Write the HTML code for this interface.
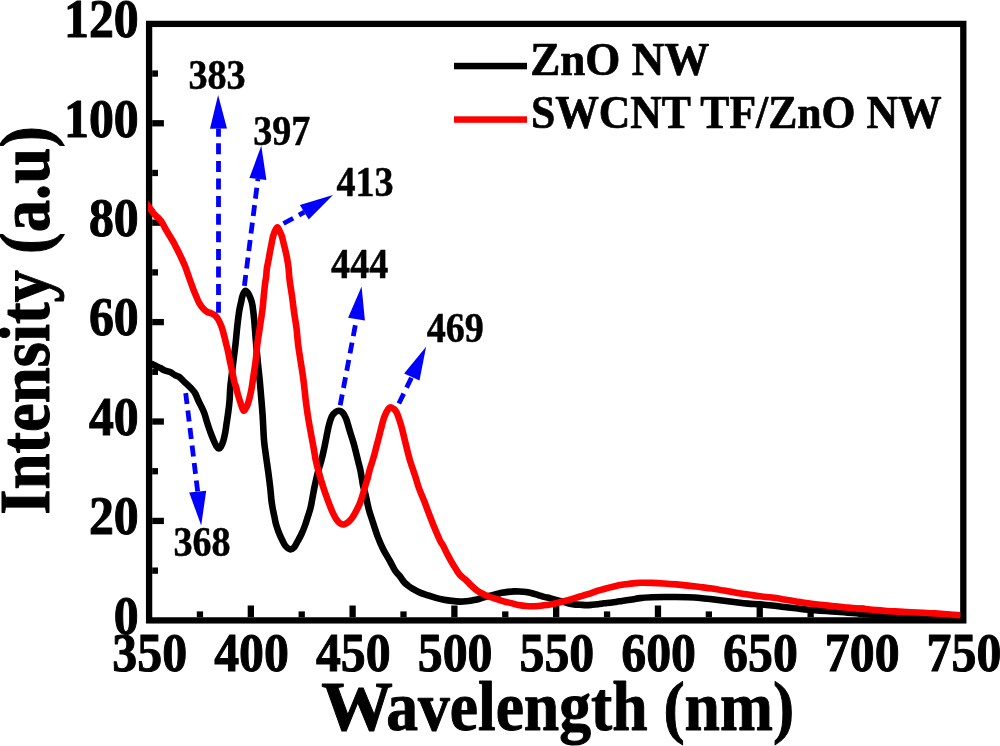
<!DOCTYPE html>
<html><head><meta charset="utf-8"><style>
html,body{margin:0;padding:0;background:#fff;overflow:hidden;width:1000px;height:746px;}
svg{display:block;will-change:transform;}
</style></head><body>
<svg width="1000" height="746" viewBox="0 0 1000 746">
<rect width="1000" height="746" fill="#fff"/>
<rect x="149.1" y="23.9" width="814.2" height="596.5" fill="none" stroke="#000" stroke-width="6.3"/>
<line x1="199.94" y1="617.2" x2="199.94" y2="611.4" stroke="#000" stroke-width="6.3"/>
<line x1="250.83" y1="617.2" x2="250.83" y2="605.5" stroke="#000" stroke-width="6.3"/>
<line x1="301.72" y1="617.2" x2="301.72" y2="611.4" stroke="#000" stroke-width="6.3"/>
<line x1="352.61" y1="617.2" x2="352.61" y2="605.5" stroke="#000" stroke-width="6.3"/>
<line x1="403.50" y1="617.2" x2="403.50" y2="611.4" stroke="#000" stroke-width="6.3"/>
<line x1="454.39" y1="617.2" x2="454.39" y2="605.5" stroke="#000" stroke-width="6.3"/>
<line x1="505.28" y1="617.2" x2="505.28" y2="611.4" stroke="#000" stroke-width="6.3"/>
<line x1="556.17" y1="617.2" x2="556.17" y2="605.5" stroke="#000" stroke-width="6.3"/>
<line x1="607.07" y1="617.2" x2="607.07" y2="611.4" stroke="#000" stroke-width="6.3"/>
<line x1="657.96" y1="617.2" x2="657.96" y2="605.5" stroke="#000" stroke-width="6.3"/>
<line x1="708.85" y1="617.2" x2="708.85" y2="611.4" stroke="#000" stroke-width="6.3"/>
<line x1="759.74" y1="617.2" x2="759.74" y2="605.5" stroke="#000" stroke-width="6.3"/>
<line x1="810.63" y1="617.2" x2="810.63" y2="611.4" stroke="#000" stroke-width="6.3"/>
<line x1="861.52" y1="617.2" x2="861.52" y2="605.5" stroke="#000" stroke-width="6.3"/>
<line x1="912.41" y1="617.2" x2="912.41" y2="611.4" stroke="#000" stroke-width="6.3"/>
<line x1="152.2" y1="570.64" x2="158.0" y2="570.64" stroke="#000" stroke-width="6.3"/>
<line x1="152.2" y1="520.93" x2="163.9" y2="520.93" stroke="#000" stroke-width="6.3"/>
<line x1="152.2" y1="471.23" x2="158.0" y2="471.23" stroke="#000" stroke-width="6.3"/>
<line x1="152.2" y1="421.52" x2="163.9" y2="421.52" stroke="#000" stroke-width="6.3"/>
<line x1="152.2" y1="371.81" x2="158.0" y2="371.81" stroke="#000" stroke-width="6.3"/>
<line x1="152.2" y1="322.10" x2="163.9" y2="322.10" stroke="#000" stroke-width="6.3"/>
<line x1="152.2" y1="272.39" x2="158.0" y2="272.39" stroke="#000" stroke-width="6.3"/>
<line x1="152.2" y1="222.68" x2="163.9" y2="222.68" stroke="#000" stroke-width="6.3"/>
<line x1="152.2" y1="172.98" x2="158.0" y2="172.98" stroke="#000" stroke-width="6.3"/>
<line x1="152.2" y1="123.27" x2="163.9" y2="123.27" stroke="#000" stroke-width="6.3"/>
<line x1="152.2" y1="73.56" x2="158.0" y2="73.56" stroke="#000" stroke-width="6.3"/>
<clipPath id="pc"><rect x="148" y="0" width="812.2" height="623"/></clipPath>
<g clip-path="url(#pc)">
<path d="M151.00,363.30 C151.83,363.75 154.42,365.22 156.00,366.00 C157.58,366.78 159.13,367.28 160.50,368.00 C161.87,368.72 162.60,369.62 164.20,370.30 C165.80,370.98 168.30,371.30 170.10,372.10 C171.90,372.90 173.52,374.32 175.00,375.10 C176.48,375.88 177.67,375.87 179.00,376.80 C180.33,377.73 181.65,379.45 183.00,380.70 C184.35,381.95 185.75,383.03 187.10,384.30 C188.45,385.57 189.77,386.82 191.10,388.30 C192.43,389.78 193.93,391.25 195.10,393.20 C196.27,395.15 197.05,397.75 198.10,400.00 C199.15,402.25 200.35,404.47 201.40,406.70 C202.45,408.93 203.57,411.17 204.40,413.40 C205.23,415.63 205.72,417.87 206.40,420.10 C207.08,422.33 207.75,424.57 208.50,426.80 C209.25,429.03 210.05,431.27 210.90,433.50 C211.75,435.73 212.67,438.07 213.60,440.20 C214.53,442.33 215.67,444.93 216.50,446.30 C217.33,447.67 217.85,448.37 218.60,448.40 C219.35,448.43 220.18,447.87 221.00,446.50 C221.82,445.13 222.78,442.58 223.50,440.20 C224.22,437.82 224.80,434.88 225.30,432.20 C225.80,429.52 226.10,426.78 226.50,424.10 C226.90,421.42 227.32,418.78 227.70,416.10 C228.08,413.42 228.48,410.68 228.80,408.00 C229.12,405.32 229.35,403.47 229.60,400.00 C229.85,396.53 229.98,391.03 230.30,387.20 C230.62,383.37 231.10,380.37 231.50,377.00 C231.90,373.63 232.30,370.33 232.70,367.00 C233.10,363.67 233.42,360.95 233.90,357.00 C234.38,353.05 235.05,348.27 235.60,343.30 C236.15,338.33 236.60,332.57 237.20,327.20 C237.80,321.83 238.58,315.13 239.20,311.10 C239.82,307.07 240.33,305.60 240.90,303.00 C241.47,300.40 241.87,297.53 242.60,295.50 C243.33,293.47 244.35,291.13 245.30,290.80 C246.25,290.47 247.42,292.22 248.30,293.50 C249.18,294.78 249.92,296.58 250.60,298.50 C251.28,300.42 251.80,301.42 252.40,305.00 C253.00,308.58 253.63,314.17 254.20,320.00 C254.77,325.83 255.23,333.33 255.80,340.00 C256.37,346.67 256.97,353.48 257.60,360.00 C258.23,366.52 259.03,373.23 259.60,379.10 C260.17,384.97 260.50,389.22 261.00,395.20 C261.50,401.18 262.10,407.53 262.60,415.00 C263.10,422.47 263.43,433.15 264.00,440.00 C264.57,446.85 265.28,450.73 266.00,456.10 C266.72,461.47 267.58,466.83 268.30,472.20 C269.02,477.57 269.78,483.67 270.30,488.30 C270.82,492.93 271.02,496.72 271.40,500.00 C271.78,503.28 272.12,505.32 272.60,508.00 C273.08,510.68 273.73,513.42 274.30,516.10 C274.87,518.78 275.27,521.42 276.00,524.10 C276.73,526.78 277.65,529.52 278.70,532.20 C279.75,534.88 281.17,537.90 282.30,540.20 C283.43,542.50 284.23,544.48 285.50,546.00 C286.77,547.52 288.48,549.05 289.90,549.30 C291.32,549.55 292.68,548.88 294.00,547.50 C295.32,546.12 296.55,543.25 297.80,541.00 C299.05,538.75 300.33,536.50 301.50,534.00 C302.67,531.50 303.72,528.98 304.80,526.00 C305.88,523.02 307.05,519.10 308.00,516.10 C308.95,513.10 309.82,510.68 310.50,508.00 C311.18,505.32 311.47,503.33 312.10,500.00 C312.73,496.67 313.57,491.67 314.30,488.00 C315.03,484.33 315.75,481.17 316.50,478.00 C317.25,474.83 317.97,472.00 318.80,469.00 C319.63,466.00 320.60,463.45 321.50,460.00 C322.40,456.55 323.22,452.93 324.20,448.30 C325.18,443.67 326.57,436.23 327.40,432.20 C328.23,428.17 328.43,426.78 329.20,424.10 C329.97,421.42 330.95,418.12 332.00,416.10 C333.05,414.08 334.33,412.90 335.50,412.00 C336.67,411.10 337.83,410.62 339.00,410.70 C340.17,410.78 341.33,411.20 342.50,412.50 C343.67,413.80 344.83,415.58 346.00,418.50 C347.17,421.42 348.50,426.75 349.50,430.00 C350.50,433.25 351.18,435.32 352.00,438.00 C352.82,440.68 353.67,443.42 354.40,446.10 C355.13,448.78 355.73,451.42 356.40,454.10 C357.07,456.78 357.73,459.52 358.40,462.20 C359.07,464.88 359.83,467.52 360.40,470.20 C360.97,472.88 361.33,475.62 361.80,478.30 C362.27,480.98 362.57,483.55 363.20,486.30 C363.83,489.05 364.67,490.97 365.60,494.80 C366.53,498.63 367.58,504.73 368.80,509.30 C370.02,513.87 371.42,517.65 372.90,522.20 C374.38,526.75 375.97,532.05 377.70,536.60 C379.43,541.15 381.30,545.48 383.30,549.50 C385.30,553.52 387.75,557.20 389.70,560.70 C391.65,564.20 393.28,567.88 395.00,570.50 C396.72,573.12 398.50,574.48 400.00,576.40 C401.50,578.32 402.67,580.47 404.00,582.00 C405.33,583.53 406.67,584.53 408.00,585.60 C409.33,586.67 410.00,587.23 412.00,588.40 C414.00,589.57 417.33,591.45 420.00,592.60 C422.67,593.75 425.33,594.42 428.00,595.30 C430.67,596.18 433.33,597.17 436.00,597.90 C438.67,598.63 441.33,599.20 444.00,599.70 C446.67,600.20 449.33,600.58 452.00,600.90 C454.67,601.22 457.67,601.53 460.00,601.60 C462.33,601.67 464.00,601.50 466.00,601.30 C468.00,601.10 470.00,600.75 472.00,600.40 C474.00,600.05 476.00,599.72 478.00,599.20 C480.00,598.68 482.00,597.88 484.00,597.30 C486.00,596.72 488.00,596.20 490.00,595.70 C492.00,595.20 494.00,594.78 496.00,594.30 C498.00,593.82 500.00,593.20 502.00,592.80 C504.00,592.40 506.00,592.13 508.00,591.90 C510.00,591.67 512.00,591.47 514.00,591.40 C516.00,591.33 518.00,591.38 520.00,591.50 C522.00,591.62 524.00,591.80 526.00,592.10 C528.00,592.40 530.00,592.80 532.00,593.30 C534.00,593.80 536.00,594.50 538.00,595.10 C540.00,595.70 542.00,596.40 544.00,596.90 C546.00,597.40 548.00,597.60 550.00,598.10 C552.00,598.60 554.00,599.35 556.00,599.90 C558.00,600.45 560.00,600.85 562.00,601.40 C564.00,601.95 566.00,602.70 568.00,603.20 C570.00,603.70 572.00,604.15 574.00,604.40 C576.00,604.65 578.00,604.58 580.00,604.70 C582.00,604.82 584.00,605.08 586.00,605.10 C588.00,605.12 590.00,604.95 592.00,604.80 C594.00,604.65 596.00,604.45 598.00,604.20 C600.00,603.95 602.00,603.55 604.00,603.30 C606.00,603.05 608.00,602.93 610.00,602.70 C612.00,602.47 614.00,602.18 616.00,601.90 C618.00,601.62 620.00,601.30 622.00,601.00 C624.00,600.70 626.00,600.40 628.00,600.10 C630.00,599.80 632.00,599.53 634.00,599.20 C636.00,598.87 637.00,598.42 640.00,598.10 C643.00,597.78 648.00,597.48 652.00,597.30 C656.00,597.12 660.00,597.05 664.00,597.00 C668.00,596.95 672.00,596.95 676.00,597.00 C680.00,597.05 684.00,597.13 688.00,597.30 C692.00,597.47 696.00,597.67 700.00,598.00 C704.00,598.33 708.00,598.83 712.00,599.30 C716.00,599.77 720.00,600.30 724.00,600.80 C728.00,601.30 732.00,601.83 736.00,602.30 C740.00,602.77 744.00,603.27 748.00,603.60 C752.00,603.93 756.00,603.98 760.00,604.30 C764.00,604.62 768.00,605.05 772.00,605.50 C776.00,605.95 780.00,606.53 784.00,607.00 C788.00,607.47 792.00,607.85 796.00,608.30 C800.00,608.75 804.00,609.32 808.00,609.70 C812.00,610.08 816.00,610.32 820.00,610.60 C824.00,610.88 828.00,611.12 832.00,611.40 C836.00,611.68 840.00,612.00 844.00,612.30 C848.00,612.60 851.67,612.83 856.00,613.20 C860.33,613.57 864.33,614.03 870.00,614.50 C875.67,614.97 881.67,615.45 890.00,616.00 C898.33,616.55 908.33,617.22 920.00,617.80 C931.67,618.38 953.33,619.22 960.00,619.50" fill="none" stroke="#000" stroke-width="6.6" stroke-linejoin="round"/>
<path d="M144.00,200.90 C144.67,201.73 146.67,204.20 148.00,205.90 C149.33,207.60 150.80,209.57 152.00,211.10 C153.20,212.63 153.95,213.77 155.20,215.10 C156.45,216.43 158.28,217.75 159.50,219.10 C160.72,220.45 161.67,221.85 162.50,223.20 C163.33,224.55 163.77,225.87 164.50,227.20 C165.23,228.53 166.10,229.87 166.90,231.20 C167.70,232.53 168.50,233.87 169.30,235.20 C170.10,236.53 170.90,237.85 171.70,239.20 C172.50,240.55 173.37,241.95 174.10,243.30 C174.83,244.65 175.48,246.10 176.10,247.30 C176.72,248.50 176.92,248.72 177.80,250.50 C178.68,252.28 180.20,255.40 181.40,258.00 C182.60,260.60 183.92,263.42 185.00,266.10 C186.08,268.78 186.95,271.42 187.90,274.10 C188.85,276.78 189.73,279.52 190.70,282.20 C191.67,284.88 192.73,287.73 193.70,290.20 C194.67,292.67 195.62,294.93 196.50,297.00 C197.38,299.07 197.92,300.70 199.00,302.60 C200.08,304.50 201.65,306.85 203.00,308.40 C204.35,309.95 205.75,311.08 207.10,311.90 C208.45,312.72 209.77,312.70 211.10,313.30 C212.43,313.90 213.90,314.47 215.10,315.50 C216.30,316.53 217.20,317.55 218.30,319.50 C219.40,321.45 220.75,324.58 221.70,327.20 C222.65,329.82 223.28,332.52 224.00,335.20 C224.72,337.88 225.33,340.62 226.00,343.30 C226.67,345.98 227.42,348.68 228.00,351.30 C228.58,353.92 228.97,356.38 229.50,359.00 C230.03,361.62 230.63,364.33 231.20,367.00 C231.77,369.67 232.33,372.33 232.90,375.00 C233.47,377.67 234.07,380.97 234.60,383.00 C235.13,385.03 235.52,385.17 236.10,387.20 C236.68,389.23 237.33,392.52 238.10,395.20 C238.87,397.88 239.78,400.73 240.70,403.30 C241.62,405.87 242.63,409.98 243.60,410.60 C244.57,411.22 245.75,408.22 246.50,407.00 C247.25,405.78 247.48,405.27 248.10,403.30 C248.72,401.33 249.58,397.88 250.20,395.20 C250.82,392.52 251.33,389.88 251.80,387.20 C252.27,384.52 252.60,381.78 253.00,379.10 C253.40,376.42 253.80,373.78 254.20,371.10 C254.60,368.42 255.05,365.68 255.40,363.00 C255.75,360.32 256.00,358.00 256.30,355.00 C256.60,352.00 256.85,348.00 257.20,345.00 C257.55,342.00 257.87,340.57 258.40,337.00 C258.93,333.43 259.73,328.07 260.40,323.60 C261.07,319.13 261.85,314.67 262.40,310.20 C262.95,305.73 263.25,301.27 263.70,296.80 C264.15,292.33 264.68,286.82 265.10,283.40 C265.52,279.98 265.90,278.82 266.20,276.30 C266.50,273.78 266.52,270.98 266.90,268.30 C267.28,265.62 268.00,262.88 268.50,260.20 C269.00,257.52 269.40,254.88 269.90,252.20 C270.40,249.52 270.97,246.78 271.50,244.10 C272.03,241.42 272.52,238.28 273.10,236.10 C273.68,233.92 274.30,232.45 275.00,231.00 C275.70,229.55 276.53,227.40 277.30,227.40 C278.07,227.40 278.85,229.55 279.60,231.00 C280.35,232.45 281.10,233.92 281.80,236.10 C282.50,238.28 283.13,241.42 283.80,244.10 C284.47,246.78 285.20,249.52 285.80,252.20 C286.40,254.88 286.93,257.52 287.40,260.20 C287.87,262.88 288.23,265.00 288.60,268.30 C288.97,271.60 289.03,275.37 289.60,280.00 C290.17,284.63 291.25,290.73 292.00,296.10 C292.75,301.47 293.35,306.85 294.10,312.20 C294.85,317.55 295.83,322.85 296.50,328.20 C297.17,333.55 297.43,338.93 298.10,344.30 C298.77,349.67 299.68,355.03 300.50,360.40 C301.32,365.77 302.27,371.15 303.00,376.50 C303.73,381.85 304.45,388.58 304.90,392.50 C305.35,396.42 305.20,396.07 305.70,400.00 C306.20,403.93 307.07,410.73 307.90,416.10 C308.73,421.47 309.73,426.83 310.70,432.20 C311.67,437.57 312.87,443.67 313.70,448.30 C314.53,452.93 314.82,455.88 315.70,460.00 C316.58,464.12 317.47,467.65 319.00,473.00 C320.53,478.35 322.58,485.43 324.90,492.10 C327.22,498.77 330.72,508.10 332.90,513.00 C335.08,517.90 336.18,519.60 338.00,521.50 C339.82,523.40 341.58,524.82 343.80,524.40 C346.02,523.98 348.80,522.10 351.30,519.00 C353.80,515.90 357.02,509.47 358.80,505.80 C360.58,502.13 360.93,500.25 362.00,497.00 C363.07,493.75 364.27,489.42 365.20,486.30 C366.13,483.18 366.87,480.98 367.60,478.30 C368.33,475.62 368.85,472.88 369.60,470.20 C370.35,467.52 371.28,464.88 372.10,462.20 C372.92,459.52 373.77,456.78 374.50,454.10 C375.23,451.42 375.80,448.78 376.50,446.10 C377.20,443.42 378.00,440.68 378.70,438.00 C379.40,435.32 379.80,433.42 380.70,430.00 C381.60,426.58 382.83,421.00 384.10,417.50 C385.37,414.00 387.07,410.65 388.30,409.00 C389.53,407.35 390.17,407.12 391.50,407.60 C392.83,408.08 394.72,409.00 396.30,411.90 C397.88,414.80 399.58,420.30 401.00,425.00 C402.42,429.70 403.38,434.47 404.80,440.10 C406.22,445.73 407.78,452.85 409.50,458.80 C411.22,464.75 413.53,470.93 415.10,475.80 C416.67,480.67 417.37,483.75 418.90,488.00 C420.43,492.25 422.60,496.95 424.30,501.30 C426.00,505.65 427.35,509.55 429.10,514.10 C430.85,518.65 432.92,524.05 434.80,528.60 C436.68,533.15 439.07,538.67 440.40,541.40 C441.73,544.13 441.75,543.07 442.80,545.00 C443.85,546.93 445.32,550.32 446.70,553.00 C448.08,555.68 449.57,558.42 451.10,561.10 C452.63,563.78 454.42,566.78 455.90,569.10 C457.38,571.42 458.32,573.15 460.00,575.00 C461.68,576.85 464.00,578.33 466.00,580.20 C468.00,582.07 470.00,584.35 472.00,586.20 C474.00,588.05 476.00,589.93 478.00,591.30 C480.00,592.67 482.00,593.45 484.00,594.40 C486.00,595.35 488.00,596.25 490.00,597.00 C492.00,597.75 494.00,598.25 496.00,598.90 C498.00,599.55 500.00,600.32 502.00,600.90 C504.00,601.48 506.00,601.90 508.00,602.40 C510.00,602.90 512.00,603.42 514.00,603.90 C516.00,604.38 518.00,604.95 520.00,605.30 C522.00,605.65 524.00,605.83 526.00,606.00 C528.00,606.17 530.00,606.30 532.00,606.30 C534.00,606.30 536.00,606.17 538.00,606.00 C540.00,605.83 542.00,605.57 544.00,605.30 C546.00,605.03 548.00,604.75 550.00,604.40 C552.00,604.05 554.00,603.63 556.00,603.20 C558.00,602.77 560.00,602.30 562.00,601.80 C564.00,601.30 566.00,600.77 568.00,600.20 C570.00,599.63 572.00,599.02 574.00,598.40 C576.00,597.78 578.00,597.12 580.00,596.50 C582.00,595.88 584.00,595.32 586.00,594.70 C588.00,594.08 590.00,593.47 592.00,592.80 C594.00,592.13 596.00,591.33 598.00,590.70 C600.00,590.07 602.00,589.55 604.00,589.00 C606.00,588.45 608.00,587.92 610.00,587.40 C612.00,586.88 614.00,586.33 616.00,585.90 C618.00,585.47 620.00,585.13 622.00,584.80 C624.00,584.47 626.00,584.15 628.00,583.90 C630.00,583.65 632.00,583.48 634.00,583.30 C636.00,583.12 637.00,582.87 640.00,582.80 C643.00,582.73 648.00,582.78 652.00,582.90 C656.00,583.02 660.00,583.25 664.00,583.50 C668.00,583.75 672.00,584.05 676.00,584.40 C680.00,584.75 684.00,585.17 688.00,585.60 C692.00,586.03 696.00,586.52 700.00,587.00 C704.00,587.48 708.00,587.90 712.00,588.50 C716.00,589.10 720.00,589.90 724.00,590.60 C728.00,591.30 732.00,592.05 736.00,592.70 C740.00,593.35 744.00,593.90 748.00,594.50 C752.00,595.10 756.00,595.78 760.00,596.30 C764.00,596.82 768.00,597.08 772.00,597.60 C776.00,598.12 780.00,598.77 784.00,599.40 C788.00,600.03 792.00,600.75 796.00,601.40 C800.00,602.05 804.00,602.73 808.00,603.30 C812.00,603.87 816.00,604.35 820.00,604.80 C824.00,605.25 828.00,605.60 832.00,606.00 C836.00,606.40 840.00,606.80 844.00,607.20 C848.00,607.60 852.00,608.05 856.00,608.40 C860.00,608.75 864.00,608.97 868.00,609.30 C872.00,609.63 876.83,610.12 880.00,610.40 C883.17,610.68 883.83,610.80 887.00,611.00 C890.17,611.20 895.00,611.40 899.00,611.60 C903.00,611.80 907.00,612.00 911.00,612.20 C915.00,612.40 919.00,612.60 923.00,612.80 C927.00,613.00 928.83,613.00 935.00,613.40 C941.17,613.80 955.17,614.85 960.00,615.20 C964.83,615.55 963.33,615.45 964.00,615.50" fill="none" stroke="#ff0000" stroke-width="6.6" stroke-linejoin="round"/>
</g>
<line x1="218.5" y1="312.7" x2="218.5" y2="128.6" stroke="#0000ff" stroke-width="4.8" stroke-dasharray="11 6.6"/><polygon points="227.0,128.5 218.1,95.0 210.0,128.7" fill="#0000ff"/>
<line x1="244.4" y1="285.9" x2="257.9" y2="179.0" stroke="#0000ff" stroke-width="4.8" stroke-dasharray="11 6.6"/><polygon points="266.4,179.9 261.3,145.7 249.4,178.1" fill="#0000ff"/>
<line x1="283.5" y1="223.5" x2="304.3" y2="212.2" stroke="#0000ff" stroke-width="4.8" stroke-dasharray="11 6.6"/><polygon points="308.7,219.5 333.0,195.0 299.9,204.9" fill="#0000ff"/>
<line x1="340.2" y1="405.3" x2="356.5" y2="319.1" stroke="#0000ff" stroke-width="4.8" stroke-dasharray="11 6.6"/><polygon points="364.9,320.4 361.6,286.6 348.1,317.8" fill="#0000ff"/>
<line x1="398.9" y1="403.5" x2="411.8" y2="377.0" stroke="#0000ff" stroke-width="4.8" stroke-dasharray="11 6.6"/><polygon points="419.5,380.6 426.1,346.8 404.1,373.4" fill="#0000ff"/>
<line x1="185.7" y1="393.1" x2="197.7" y2="491.7" stroke="#0000ff" stroke-width="4.8" stroke-dasharray="11 6.6"/><polygon points="189.2,492.6 201.2,525.4 206.2,490.8" fill="#0000ff"/>
<rect x="454" y="62.8" width="73" height="6.5" fill="#000"/>
<rect x="454" y="116.3" width="73" height="6.5" fill="#ff0000"/>
<text font-family="Liberation Serif, serif" font-weight="bold" font-size="54.20" text-anchor="end" transform="translate(138.79,633.67) scale(0.9200,1)" stroke="#000" stroke-width="1.00" stroke-linejoin="round">0</text>
<text font-family="Liberation Serif, serif" font-weight="bold" font-size="54.20" text-anchor="end" transform="translate(138.79,534.25) scale(0.9200,1)" stroke="#000" stroke-width="1.00" stroke-linejoin="round">20</text>
<text font-family="Liberation Serif, serif" font-weight="bold" font-size="54.20" text-anchor="end" transform="translate(138.79,434.83) scale(0.9200,1)" stroke="#000" stroke-width="1.00" stroke-linejoin="round">40</text>
<text font-family="Liberation Serif, serif" font-weight="bold" font-size="54.20" text-anchor="end" transform="translate(138.79,335.42) scale(0.9200,1)" stroke="#000" stroke-width="1.00" stroke-linejoin="round">60</text>
<text font-family="Liberation Serif, serif" font-weight="bold" font-size="54.20" text-anchor="end" transform="translate(138.79,236.00) scale(0.9200,1)" stroke="#000" stroke-width="1.00" stroke-linejoin="round">80</text>
<text font-family="Liberation Serif, serif" font-weight="bold" font-size="54.20" text-anchor="end" transform="translate(138.79,136.58) scale(0.9200,1)" stroke="#000" stroke-width="1.00" stroke-linejoin="round">100</text>
<text font-family="Liberation Serif, serif" font-weight="bold" font-size="54.20" text-anchor="end" transform="translate(138.79,37.17) scale(0.9200,1)" stroke="#000" stroke-width="1.00" stroke-linejoin="round">120</text>
<text font-family="Liberation Serif, serif" font-weight="bold" font-size="54.20" text-anchor="middle" transform="translate(149.75,670.96) scale(0.9200,1)" stroke="#000" stroke-width="1.00" stroke-linejoin="round">350</text>
<text font-family="Liberation Serif, serif" font-weight="bold" font-size="54.20" text-anchor="middle" transform="translate(251.53,670.96) scale(0.9200,1)" stroke="#000" stroke-width="1.00" stroke-linejoin="round">400</text>
<text font-family="Liberation Serif, serif" font-weight="bold" font-size="54.20" text-anchor="middle" transform="translate(353.32,670.96) scale(0.9200,1)" stroke="#000" stroke-width="1.00" stroke-linejoin="round">450</text>
<text font-family="Liberation Serif, serif" font-weight="bold" font-size="54.20" text-anchor="middle" transform="translate(455.10,670.96) scale(0.9200,1)" stroke="#000" stroke-width="1.00" stroke-linejoin="round">500</text>
<text font-family="Liberation Serif, serif" font-weight="bold" font-size="54.20" text-anchor="middle" transform="translate(556.88,670.96) scale(0.9200,1)" stroke="#000" stroke-width="1.00" stroke-linejoin="round">550</text>
<text font-family="Liberation Serif, serif" font-weight="bold" font-size="54.20" text-anchor="middle" transform="translate(658.66,670.96) scale(0.9200,1)" stroke="#000" stroke-width="1.00" stroke-linejoin="round">600</text>
<text font-family="Liberation Serif, serif" font-weight="bold" font-size="54.20" text-anchor="middle" transform="translate(760.44,670.96) scale(0.9200,1)" stroke="#000" stroke-width="1.00" stroke-linejoin="round">650</text>
<text font-family="Liberation Serif, serif" font-weight="bold" font-size="54.20" text-anchor="middle" transform="translate(862.22,670.96) scale(0.9200,1)" stroke="#000" stroke-width="1.00" stroke-linejoin="round">700</text>
<text font-family="Liberation Serif, serif" font-weight="bold" font-size="54.20" text-anchor="middle" transform="translate(964.00,670.96) scale(0.9200,1)" stroke="#000" stroke-width="1.00" stroke-linejoin="round">750</text>
<text font-family="Liberation Serif, serif" font-weight="bold" font-size="69.29" text-anchor="start" transform="translate(321.24,730.46) scale(1.0338,1)" stroke="#000" stroke-width="1.00" stroke-linejoin="round">W</text>
<text font-family="Liberation Serif, serif" font-weight="bold" font-size="69.29" text-anchor="start" transform="translate(386.21,730.46) scale(0.9176,1)" stroke="#000" stroke-width="1.00" stroke-linejoin="round">avelength (nm)</text>
<text font-family="Liberation Serif, serif" font-weight="bold" font-size="71.47" text-anchor="middle" transform="translate(48.99,320.49) rotate(-90) scale(0.9061,1)" stroke="#000" stroke-width="1.00" stroke-linejoin="round">Intensity (a.u)</text>
<text font-family="Liberation Serif, serif" font-weight="bold" font-size="47.00" text-anchor="start" transform="translate(530.15,74.60) scale(0.9594,1)" stroke="#000" stroke-width="0.70" stroke-linejoin="round">ZnO NW</text>
<text font-family="Liberation Serif, serif" font-weight="bold" font-size="47.00" text-anchor="start" transform="translate(530.90,128.20) scale(0.9289,1)" stroke="#000" stroke-width="0.70" stroke-linejoin="round">SWCNT TF/ZnO NW</text>
<text font-family="Liberation Serif, serif" font-weight="bold" font-size="42.80" text-anchor="middle" transform="translate(217.07,88.90) scale(0.8900,1)" stroke="#000" stroke-width="0.50" stroke-linejoin="round">383</text>
<text font-family="Liberation Serif, serif" font-weight="bold" font-size="42.80" text-anchor="middle" transform="translate(281.74,144.60) scale(0.8900,1)" stroke="#000" stroke-width="0.50" stroke-linejoin="round">397</text>
<text font-family="Liberation Serif, serif" font-weight="bold" font-size="42.80" text-anchor="middle" transform="translate(365.05,195.50) scale(0.8900,1)" stroke="#000" stroke-width="0.50" stroke-linejoin="round">413</text>
<text font-family="Liberation Serif, serif" font-weight="bold" font-size="42.80" text-anchor="middle" transform="translate(359.65,277.80) scale(0.8900,1)" stroke="#000" stroke-width="0.50" stroke-linejoin="round">444</text>
<text font-family="Liberation Serif, serif" font-weight="bold" font-size="42.80" text-anchor="middle" transform="translate(455.20,342.40) scale(0.8900,1)" stroke="#000" stroke-width="0.50" stroke-linejoin="round">469</text>
<text font-family="Liberation Serif, serif" font-weight="bold" font-size="42.80" text-anchor="middle" transform="translate(202.06,556.40) scale(0.8900,1)" stroke="#000" stroke-width="0.50" stroke-linejoin="round">368</text>
</svg></body></html>
